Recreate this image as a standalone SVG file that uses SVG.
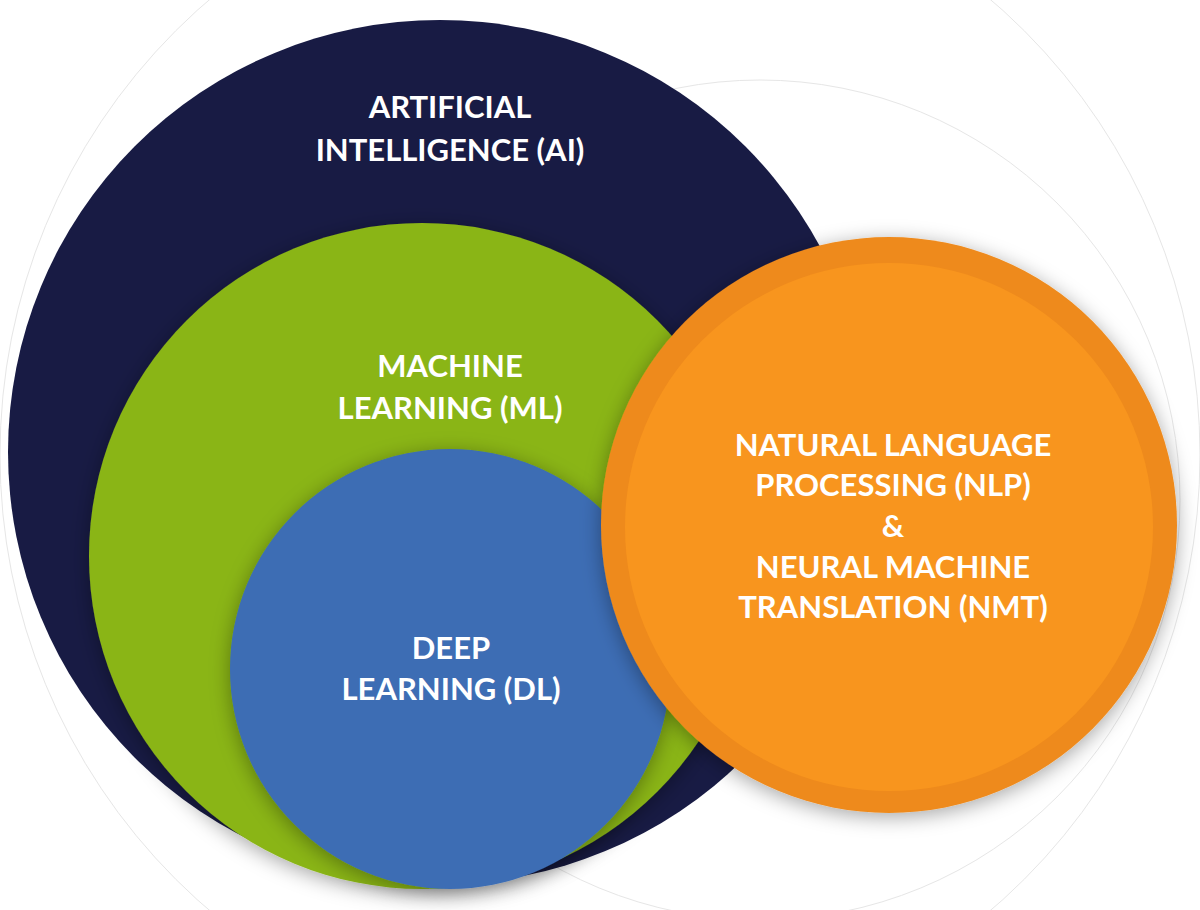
<svg xmlns="http://www.w3.org/2000/svg" width="1200" height="910" viewBox="0 0 1200 910">
<style>
text{font-family:Lato,"Open Sans",sans-serif;font-weight:700;font-size:31px;fill:#fff;text-anchor:middle}
.faint{fill:none;stroke:#e6e6e6;stroke-width:1}
</style>
<defs>
<filter id="sh" x="-20%" y="-20%" width="140%" height="140%"><feDropShadow dx="0" dy="4" stdDeviation="10" flood-color="#000" flood-opacity="0.35"/></filter>
</defs>
<rect width="1200" height="910" fill="#fff"/>
<g id="bg">
<circle class="faint" cx="600" cy="455" r="600"/>
<circle class="faint" cx="760" cy="500" r="420"/>
</g>
<g id="ai"><circle cx="440" cy="452" r="432" fill="#181b44"/>
<text x="450" y="118">ARTIFICIAL</text><text x="450" y="161">INTELLIGENCE (AI)</text></g>
<g id="ml"><circle cx="422" cy="556" r="333" fill="#8ab516" filter="url(#sh)"/>
<text x="450" y="377">MACHINE</text><text x="450" y="419">LEARNING (ML)</text></g>
<g id="dl"><circle cx="450" cy="669" r="220" fill="#3c6db4" filter="url(#sh)"/>
<text x="451" y="659">DEEP</text><text x="451" y="700">LEARNING (DL)</text></g>
<g id="nlp"><circle cx="889" cy="525" r="288" fill="#ee8a1c" filter="url(#sh)"/>
<circle cx="889" cy="527" r="264" fill="#f8951e"/>
<text x="893" y="456">NATURAL LANGUAGE</text><text x="893" y="496">PROCESSING  (NLP)</text><text x="893" y="537">&amp;</text><text x="893" y="578">NEURAL MACHINE</text><text x="893" y="618">TRANSLATION (NMT)</text></g>
<g id="connectors"/>
</svg>
